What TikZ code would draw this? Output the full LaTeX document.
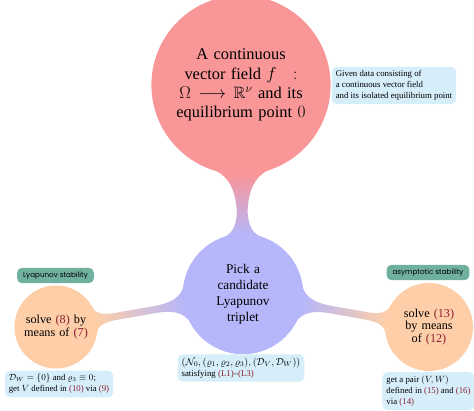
\documentclass[tikz,border=0pt]{standalone}
\usepackage{amsmath,amssymb}
\usepackage{fontspec}
\setmainfont{Liberation Serif}
\setsansfont{Poppins}
\usetikzlibrary{mindmap}

\definecolor{datared}{RGB}{249,150,152}
\definecolor{pickviolet}{RGB}{182,182,250}
\definecolor{solveorange}{RGB}{253,206,168}
\definecolor{tagteal}{RGB}{112,176,158}
\definecolor{noteblue}{RGB}{214,238,250}
\definecolor{linkred}{RGB}{140,30,50}

\newcommand{\refno}[1]{\textcolor{linkred}{(#1)}}

\tikzset{%
  data concept/.style={
    concept,
    concept color=datared,
    minimum size=168pt,
    text width=160pt,
    font=\fontsize{16.4}{19.2}\selectfont
  },
  pick concept/.style={
    concept,
    concept color=pickviolet,
    minimum size=116pt,
    text width=100pt,
    font=\fontsize{13.3}{16}\selectfont
  },
  solve concept/.style={
    concept,
    concept color=solveorange,
    minimum size=76pt,
    text width=76pt,
    font=\fontsize{12.2}{12.5}\selectfont
  },
  side note/.style={
    rounded corners=5pt,
    fill=noteblue,
    align=left,
    inner xsep=4pt,
    inner ysep=3.5pt,
    font=\fontsize{8.8}{11}\selectfont
  },
  stability tag/.style={
    rounded corners=5pt,
    fill=tagteal,
    inner xsep=6pt,
    inner ysep=4pt,
    font=\sffamily\fontsize{7.2}{8}\selectfont
  },
}

\begin{document}
\begin{tikzpicture}[x=1pt, y=1pt]
\useasboundingbox (0,0) rectangle (474,-411);

\begin{scope}[mindmap]
% CONCEPTS
\node [data concept] (data) at (241,-85)
  {A continuous\\ vector field $f\;:$\\ $\Omega\longrightarrow\mathbb{R}^{\nu}$ and its\\ equilibrium point $0$};
\node [pick concept] (pick) at (243,-294)
  {Pick a\\ candidate\\ Lyapunov\\ triplet};
\node [solve concept] (lyap) at (56,-327)
  {solve \refno{8} by\\ means of \refno{7}};
\node [solve concept] (asym) at (429,-327)
  {solve \refno{13}\\ by means\\ of \refno{12}};

% CONNECTIONS
\path [line width=15pt] (data) to [circle connection bar switch color=from (datared) to (pickviolet)] (pick);
\foreach \s in {lyap,asym}
  \path [line width=8pt] (pick) to [circle connection bar switch color=from (pickviolet) to (solveorange)] (\s);
\end{scope}

% STABILITY tags
\node [stability tag] (lyaptag) at (55.5,-275.5) {Lyapunov stability};
\node [stability tag] (asymtag) at (428,-272.5) {asymptotic stability};

% SIDE notes
\node [side note] (datanote) at (394,-85.5)
  {Given data consisting of\\ a continuous vector field\\ and its isolated equilibrium point};
\node [side note] (picknote) at (241,-368)
  {{\fontsize{10.4}{11}\selectfont$(\mathcal{N}_0,(\varrho_1,\varrho_2,\varrho_3),(\mathcal{D}_V,\mathcal{D}_W))$}\\ satisfying \refno{L1}--\refno{L3}};
\node [side note] (lyapnote) at (59,-384)
  {$\mathcal{D}_W=\{0\}$ and $\varrho_3\equiv 0$;\\ get $V$ defined in \refno{10} via \refno{9}};
\node [side note] (asymnote) at (428.5,-391)
  {get a pair $(V,W)$\\ defined in \refno{15} and \refno{16}\\ via \refno{14}};

\end{tikzpicture}
\end{document}
